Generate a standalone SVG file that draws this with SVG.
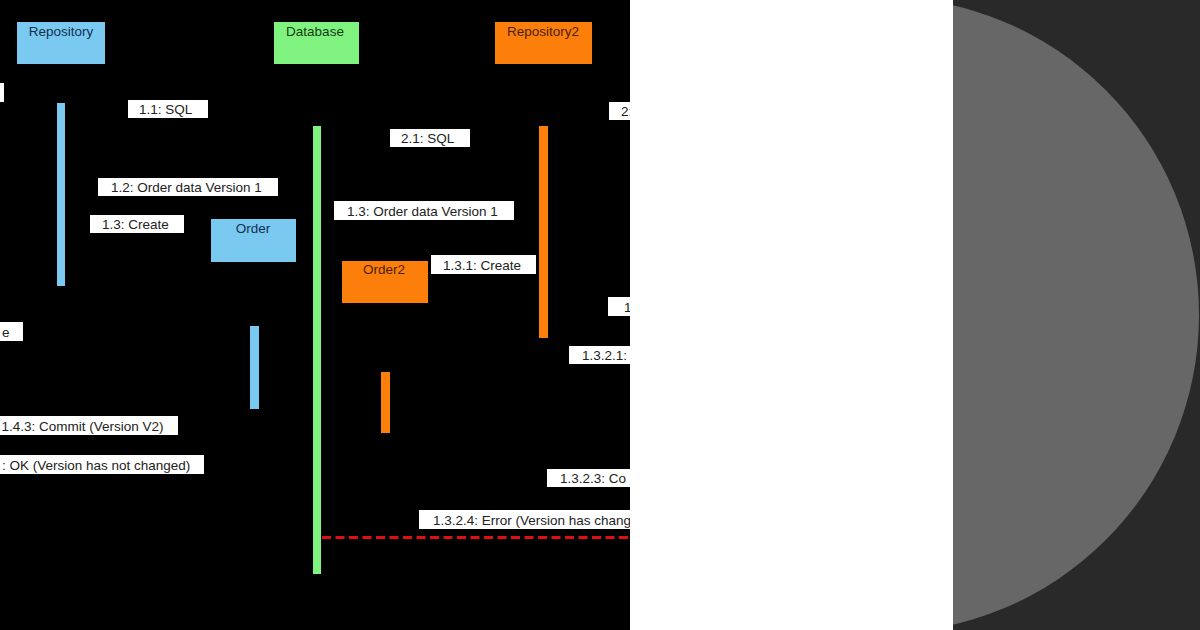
<svg xmlns="http://www.w3.org/2000/svg" width="1200" height="630" viewBox="0 0 1200 630">
<defs>
<clipPath id="diag"><rect x="0" y="0" width="630" height="630"/></clipPath>
<clipPath id="right"><rect x="953" y="0" width="247" height="630"/></clipPath>
<style>
.lbl{fill:#ffffff}
.lt{font-family:"Liberation Sans",Arial,sans-serif;font-size:13.5px;fill:#222222}
.nt{font-family:"Liberation Sans",Arial,sans-serif;font-size:13.5px;text-anchor:middle}
.blue{fill:#7ac9f1}
.green{fill:#80f27f}
.orange{fill:#fd7f0b}
</style>
</defs>
<rect x="0" y="0" width="630" height="630" fill="#000000"/>
<g clip-path="url(#diag)">
<g id="repository"><rect class="blue" x="17" y="22" width="88" height="42"/><text class="nt" x="61" y="36" fill="#13314d">Repository</text></g>
<g id="database"><rect class="green" x="274" y="22" width="85" height="42"/><text class="nt" x="315" y="36" fill="#163a16">Database</text></g>
<g id="repository2"><rect class="orange" x="495" y="22" width="97" height="42"/><text class="nt" x="543" y="36" fill="#4a1e00">Repository2</text></g>
<g id="order"><rect class="blue" x="211" y="219" width="85" height="43"/><text class="nt" x="253" y="233" fill="#13314d">Order</text></g>
<g id="order2"><rect class="orange" x="342" y="261" width="86" height="42"/><text class="nt" x="384" y="274" fill="#4a1e00">Order2</text></g>
<g id="activations">
<rect class="blue" x="57" y="103" width="8" height="183"/>
<rect class="green" x="313" y="126" width="8" height="448"/>
<rect class="orange" x="539" y="126" width="9" height="212"/>
<rect class="blue" x="250" y="326" width="9" height="83"/>
<rect class="orange" x="381" y="372" width="9" height="61"/>
</g>
<g id="connectors">
<line x1="322" y1="537.5" x2="630" y2="537.5" stroke="#e01010" stroke-width="3" stroke-dasharray="9,4.5"/>
</g>
<g id="labels">
<rect class="lbl" x="0" y="83" width="4" height="19"/>
<rect class="lbl" x="128" y="100" width="80" height="18"/><text class="lt" x="139" y="114">1.1: SQL</text>
<rect class="lbl" x="609" y="102" width="21" height="18"/><text class="lt" x="621" y="116">2:</text>
<rect class="lbl" x="390" y="129" width="80" height="18"/><text class="lt" x="401" y="143">2.1: SQL</text>
<rect class="lbl" x="98" y="178" width="180" height="18"/><text class="lt" x="111" y="192">1.2: Order data Version 1</text>
<rect class="lbl" x="334" y="201" width="180" height="19"/><text class="lt" x="347" y="215.5">1.3: Order data Version 1</text>
<rect class="lbl" x="90" y="215" width="94" height="18"/><text class="lt" x="102" y="229">1.3: Create</text>
<rect class="lbl" x="431" y="255" width="105" height="19"/><text class="lt" x="443" y="269.5">1.3.1: Create</text>
<rect class="lbl" x="608" y="297" width="22" height="19"/><text class="lt" x="624" y="311.5">1.</text>
<rect class="lbl" x="0" y="322" width="23" height="19"/><text class="lt" x="2" y="336.5">e</text>
<rect class="lbl" x="569" y="346" width="61" height="18"/><text class="lt" x="582" y="360">1.3.2.1:</text>
<rect class="lbl" x="0" y="416" width="178" height="19"/><text class="lt" x="1.5" y="430.5">1.4.3: Commit (Version V2)</text>
<rect class="lbl" x="0" y="455" width="204" height="19"/><text class="lt" x="2" y="469.5">: OK (Version has not changed)</text>
<rect class="lbl" x="547" y="469" width="83" height="18"/><text class="lt" x="560" y="483">1.3.2.3: Co</text>
<rect class="lbl" x="419" y="510" width="211" height="19"/><text class="lt" x="433" y="524.5">1.3.2.4: Error (Version has chang</text>
</g>
</g>
<rect x="630" y="0" width="323" height="630" fill="#ffffff"/>
<rect x="953" y="0" width="247" height="630" fill="#292929"/>
<circle cx="881" cy="315" r="318" fill="#676767" clip-path="url(#right)"/>
</svg>
